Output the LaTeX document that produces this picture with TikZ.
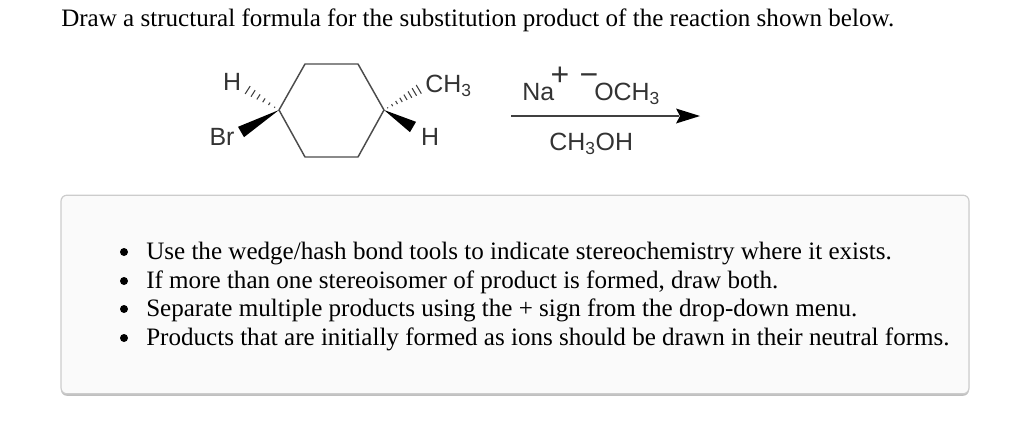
\documentclass[tikz,border=0pt]{standalone}
\usepackage{fontspec}
\setmainfont{Liberation Serif}
\newfontfamily\chemfont{Liberation Sans}
\usepackage{tikz}
\usetikzlibrary{calc,shadows}

\tikzset{
	bond/.style = {draw = black!70, line width = 1.1pt},
	hashbond/.style = {draw = black!75, line width = 0.8pt},
	chem/.style = {text = black!80, inner sep = 0pt, font = \chemfont\fontsize{18.7}{22}\selectfont},
	charge/.style = {text = black!80, inner sep = 0pt, font = \chemfont\fontsize{24}{26}\selectfont},
	prose/.style = {anchor = base west, inner sep = 0pt, font = \fontsize{18.8}{22}\selectfont},
	dot/.style = {circle, fill = black, inner sep = 0pt, minimum size = 6pt}
}

\begin{document}
\begin{tikzpicture}[x = 0.75pt, y = -0.75pt]
\useasboundingbox (0,0) rectangle (1024,422);

\node[prose] (title) at (61,26) {Draw a structural formula for the substitution product of the reaction shown below.};

% ring
\coordinate (c1) at (305,64);
\coordinate (c2) at (358,64);
\coordinate (c3) at (384,110);
\coordinate (c4) at (358,157);
\coordinate (c5) at (305,157);
\coordinate (c6) at (279,110);
\draw[bond, line join = round] (c1)--(c2)--(c3)--(c4)--(c5)--(c6)--cycle;

% wedges
\coordinate (brend) at (241,132);
\coordinate (hrend) at (413,127);
\fill[black] (c6) -- ($(brend)!4.5pt!90:(c6)$) -- ($(brend)!4.5pt!-90:(c6)$) -- cycle;
\fill[black] (c3) -- ($(hrend)!4.5pt!90:(c3)$) -- ($(hrend)!4.5pt!-90:(c3)$) -- cycle;

% hashes
\coordinate (hlend) at (243,87);
\coordinate (meend) at (421,88);
\foreach \t in {0.12,0.27,0.42,0.57,0.72,0.87}
	\draw[hashbond] ($(c6)!\t!(hlend)!\t*4pt!90:(hlend)$) -- ($(c6)!\t!(hlend)!\t*4pt!-90:(hlend)$);
\foreach \t in {0.10,0.22,0.34,0.46,0.58,0.70,0.82,0.94}
	\draw[hashbond] ($(c3)!\t!(meend)!\t*4pt!90:(meend)$) -- ($(c3)!\t!(meend)!\t*4pt!-90:(meend)$);

\node[chem] (hl) at (232,82) {H};
\node[chem] (br) at (222,137) {Br};
\node[chem, anchor = base west] (me) at (425,92) {CH\textsubscript{3}};
\node[chem] (hr) at (430,137) {H};

% reagents
\node[chem, anchor = base west] (na) at (522,100) {Na};
\node[charge] (plus) at (560,76) {+};
\node[charge] (minus) at (589,80) {\textminus};
\node[chem, anchor = base west] (och) at (594,100) {OCH\textsubscript{3}};
\node[chem, anchor = base west] (sol) at (549,150) {CH\textsubscript{3}OH};

\coordinate (arrstart) at (511,116);
\coordinate (arrbase) at (679,116);
\draw[black!75, line width = 1.1pt] (arrstart) -- (arrbase);
\fill[black] (700,116) -- (676,108.5) -- (680,116) -- (676,123.5) -- cycle;

% instruction box
\node[draw = black!20, fill = black!2, rounded corners = 4.5pt, line width = 0.9pt, minimum width = 681pt, minimum height = 149pt, inner sep = 0pt,
	drop shadow = {shadow xshift = 0pt, shadow yshift = -1.5pt, fill = black, opacity = 0.25}] (box) at (515,294.5) {};

\foreach \i/\y/\s in {1/259/{Use the wedge/hash bond tools to indicate stereochemistry where it exists.},
	2/288/{If more than one stereoisomer of product is formed, draw both.},
	3/316/{Separate multiple products using the + sign from the drop-down menu.},
	4/345/{Products that are initially formed as ions should be drawn in their neutral forms.}}
{
	\node[dot] (dot\i) at (124,\y-7) {};
	\node[prose] (item\i) at (146,\y) {\s};
}
\end{tikzpicture}
\end{document}
